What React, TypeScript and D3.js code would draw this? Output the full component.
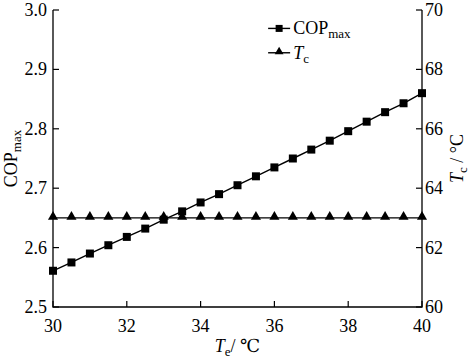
import React from 'react'
import * as d3 from 'd3'

const width = 474
const height = 361
const margin = { top: 10, right: 52, bottom: 54, left: 53 }

// evaporating temperature Te (°C)
const te = [30, 30.5, 31, 31.5, 32, 32.5, 33, 33.5, 34, 34.5, 35, 35.5, 36, 36.5, 37, 37.5, 38, 38.5, 39, 39.5, 40]
const copMax = [2.561, 2.575, 2.590, 2.604, 2.618, 2.632, 2.647, 2.661, 2.676, 2.690, 2.705, 2.720, 2.735, 2.750, 2.765, 2.780, 2.796, 2.812, 2.828, 2.843, 2.860]
const tc = [63, 63, 63, 63, 63, 63, 63, 63, 63, 63, 63, 63, 63, 63, 63, 63, 63, 63, 63, 63, 63]

const xTicks = [30, 32, 34, 36, 38, 40]
const yTicks = [2.5, 2.6, 2.7, 2.8, 2.9, 3.0]
const y2Ticks = [60, 62, 64, 66, 68, 70]

const font = "'Times New Roman', 'Liberation Serif', 'DejaVu Serif', serif"

const App = () => {
  const iw = width - margin.left - margin.right
  const ih = height - margin.top - margin.bottom

  const x = d3.scaleLinear().domain([30, 40]).range([0, iw])
  const y = d3.scaleLinear().domain([2.5, 3.0]).range([ih, 0])
  const y2 = d3.scaleLinear().domain([60, 70]).range([ih, 0])

  const copLine = d3.line<number>().x((d, i) => x(te[i])).y(d => y(d))(copMax)
  const tcLine = d3.line<number>().x((d, i) => x(te[i])).y(d => y2(d))(tc)

  const sq = 8
  const tri = d3.symbol().type(d3.symbolTriangle).size(44)()

  return (
    <svg width={width} height={height} style={{ position: 'absolute', left: 0, top: 0, background: '#fff', fontFamily: font }}
      fill="#000">
      <g transform={`translate(${margin.left},${margin.top})`}>
        {/* axes */}
        <path d={`M0,0V${ih}H${iw}V0`} fill="none" stroke="#000" strokeWidth={1.3} />
        {xTicks.map(t => (
          <g key={'x' + t}>
            <line x1={x(t)} x2={x(t)} y1={ih} y2={ih - 6} stroke="#000" strokeWidth={1.2} />
            <text x={x(t)} y={ih + 25} textAnchor="middle" fontSize={18}>{t}</text>
          </g>
        ))}
        {yTicks.map(t => (
          <g key={'y' + t}>
            <line x1={0} x2={6} y1={y(t)} y2={y(t)} stroke="#000" strokeWidth={1.2} />
            <text x={-6} y={y(t) + 6} textAnchor="end" fontSize={18}>{t.toFixed(1)}</text>
          </g>
        ))}
        {y2Ticks.map(t => (
          <g key={'y2' + t}>
            <line x1={iw} x2={iw - 6} y1={y2(t)} y2={y2(t)} stroke="#000" strokeWidth={1.2} />
            <text x={iw + 3} y={y2(t) + 6} textAnchor="start" fontSize={18}>{t}</text>
          </g>
        ))}

        {/* series */}
        <path d={tcLine ?? ''} fill="none" stroke="#000" strokeWidth={1.4} />
        {tc.map((d, i) => (
          <path key={'t' + i} d={tri ?? ''} transform={`translate(${x(te[i])},${y2(d) - 1})`} />
        ))}
        <path d={copLine ?? ''} fill="none" stroke="#000" strokeWidth={1.4} />
        {copMax.map((d, i) => (
          <rect key={'c' + i} x={x(te[i]) - sq / 2} y={y(d) - sq / 2} width={sq} height={sq} />
        ))}

        {/* legend */}
        <g transform={`translate(${x(35.83)},${y(2.969)})`}>
          <line x1={0} x2={22} y1={0} y2={0} stroke="#000" strokeWidth={1.4} />
          <rect x={11 - 3.5} y={-3.5} width={7} height={7} />
          <text x={25} y={6} fontSize={18}>COP<tspan fontSize={13} dy={4}>max</tspan></text>
        </g>
        <g transform={`translate(${x(35.83)},${y(2.928)})`}>
          <line x1={0} x2={22} y1={0} y2={0} stroke="#000" strokeWidth={1.4} />
          <path d={d3.symbol().type(d3.symbolTriangle).size(34)() ?? ''} transform="translate(11,-1)" />
          <text x={25} y={6} fontSize={18}><tspan fontStyle="italic">T</tspan><tspan fontSize={13} dy={4}>c</tspan></text>
        </g>
      </g>

      {/* axis titles */}
      <text transform={`translate(17,${margin.top + ih / 2}) rotate(-90)`} textAnchor="middle" fontSize={18}>
        COP<tspan fontSize={13} dy={4}>max</tspan>
      </text>
      <text transform={`translate(463,${margin.top + ih / 2}) rotate(-90)`} textAnchor="middle" fontSize={18}>
        <tspan fontStyle="italic">T</tspan><tspan fontSize={13} dy={4}>c</tspan><tspan dy={-4}> / °C</tspan>
      </text>
      <text x={margin.left + iw / 2} y={352} textAnchor="middle" fontSize={18}>
        <tspan fontStyle="italic">T</tspan><tspan fontSize={13} dy={4}>e</tspan><tspan dy={-4}>/ ℃</tspan>
      </text>
    </svg>
  )
}

export default App
